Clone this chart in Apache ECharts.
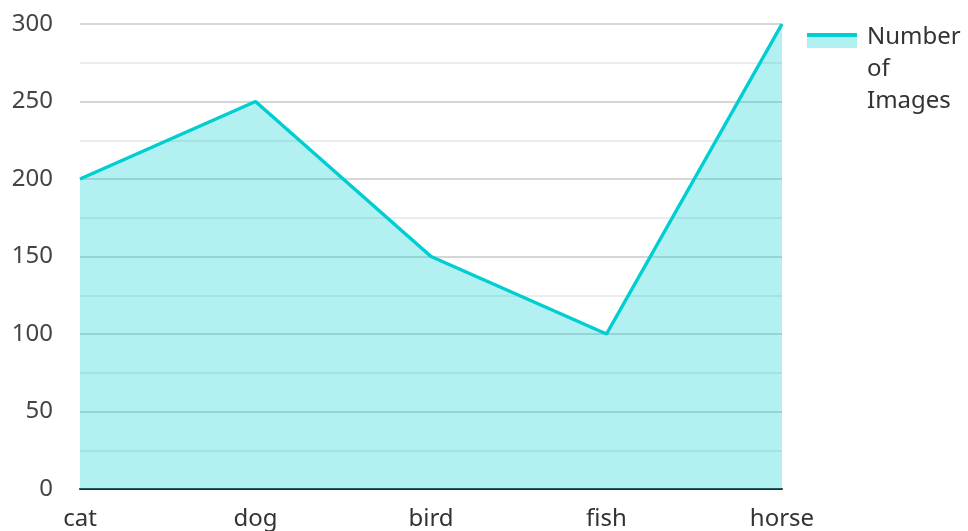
<!DOCTYPE html>
<html><head><meta charset="utf-8">
<script src="https://cdn.jsdelivr.net/npm/echarts@6/dist/echarts.min.js"></script>
<style>html,body{margin:0;padding:0;background:#fff}#c{width:968px;height:531px}</style>
</head><body><div id="c"></div>
<script>
const categories = ['cat', 'dog', 'bird', 'fish', 'horse'];
const values = [200, 250, 150, 100, 300];
const seriesName = 'Number of Images';
const yTicks = { min: 0, max: 300, interval: 50 };

const lineColor = '#00CED1';
const areaColor = '#b2f0f1';
const chart = echarts.init(document.getElementById('c'));
chart.setOption({
  animation: false,
  textStyle: { fontFamily: 'Noto Sans' },
  grid: { left: 80, right: 186, top: 24, bottom: 41, containLabel: false },
  legend: {
    left: 807, top: 21, orient: 'vertical', padding: 0,
    itemWidth: 50, itemHeight: 96, itemGap: 10,
    icon: 'rect',
    itemStyle: {
      color: {
        type: 'linear', x: 0, y: 0, x2: 0, y2: 1,
        colorStops: [
          { offset: 0, color: 'rgba(255,255,255,0)' },
          { offset: 0.125, color: 'rgba(255,255,255,0)' },
          { offset: 0.125, color: lineColor },
          { offset: 0.169, color: lineColor },
          { offset: 0.169, color: areaColor },
          { offset: 0.28, color: areaColor },
          { offset: 0.28, color: 'rgba(255,255,255,0)' },
          { offset: 1, color: 'rgba(255,255,255,0)' }
        ]
      }
    },
    textStyle: { fontSize: 24, color: '#333', width: 100, overflow: 'break', lineHeight: 32, padding: [0, 0, 0, 5], fontFamily: 'Noto Sans' }
  },
  xAxis: {
    type: 'category', data: categories, boundaryGap: false,
    axisLine: { lineStyle: { color: '#2b2b2b', width: 2 } },
    axisTick: { show: false },
    axisLabel: { fontSize: 24, color: '#333', margin: 18, fontFamily: 'Noto Sans' }
  },
  yAxis: {
    type: 'value', min: yTicks.min, max: yTicks.max, interval: yTicks.interval,
    axisLabel: { fontSize: 24, color: '#444', margin: 27, fontFamily: 'Noto Sans' },
    splitLine: { lineStyle: { color: '#c8c8c8', width: 1.5 } },
    minorTick: { show: false, splitNumber: 2 },
    minorSplitLine: { show: true, lineStyle: { color: '#e6e6e6', width: 1.5 } }
  },
  series: [{
    name: seriesName, type: 'line', data: values,
    symbol: 'none',
    lineStyle: { color: lineColor, width: 3.5 },
    itemStyle: { color: lineColor },
    areaStyle: { color: lineColor, opacity: 0.3 }
  }]
});
</script></body></html>
